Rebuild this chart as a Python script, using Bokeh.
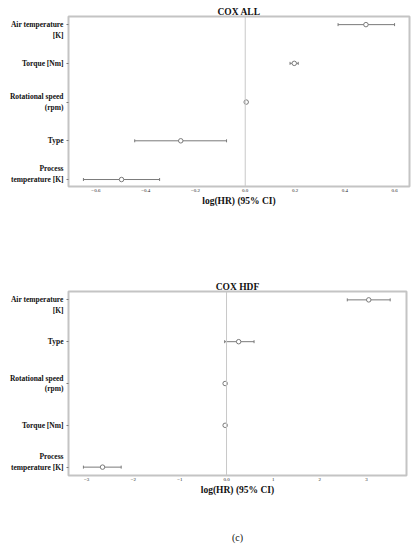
from bokeh.plotting import figure
from bokeh.models import ColumnDataSource, Whisker, TeeHead, Span, FixedTicker, Title, Range1d
from bokeh.layouts import column
from bokeh.embed import file_html
from bokeh.resources import INLINE

# ---- data: COX ALL (top to bottom) ----
all_vars = ["Air temperature [K]", "Torque [Nm]", "Rotational speed (rpm)", "Type", "Process temperature [K]"]
all_coef = [0.485, 0.197, 0.004, -0.259, -0.497]
all_lo = [0.373, 0.180, 0.000, -0.444, -0.650]
all_hi = [0.600, 0.213, 0.008, -0.075, -0.344]
all_ticks = [-0.6, -0.4, -0.2, 0.0, 0.2, 0.4, 0.6]
all_tick_labels = ["\u22120.6", "\u22120.4", "\u22120.2", "0.0", "0.2", "0.4", "0.6"]

# ---- data: COX HDF (top to bottom) ----
hdf_vars = ["Air temperature [K]", "Type", "Rotational speed (rpm)", "Torque [Nm]", "Process temperature [K]"]
hdf_coef = [3.05, 0.26, -0.03, -0.03, -2.66]
hdf_lo = [2.59, -0.04, -0.04, -0.04, -3.07]
hdf_hi = [3.51, 0.59, -0.02, -0.02, -2.26]
hdf_ticks = [-3, -2, -1, 0, 1, 2, 3]
hdf_tick_labels = ["\u22123", "\u22122", "\u22121", "0.0", "1", "2", "3"]

NB = "\u00a0"
label_text = {
    "Air temperature [K]": NB + "\nAir temperature\n" + NB * 10 + "[K]",
    "Torque [Nm]": "Torque [Nm]",
    "Rotational speed (rpm)": "Rotational speed\n" + NB * 9 + "(rpm)",
    "Type": "Type",
    "Process temperature [K]": NB * 8 + "Process\ntemperature [K]\n" + NB,
}

SERIF = "Liberation Serif"
GRAY = "#7a7a7a"


def panel(title, names, coef, lo, hi, ticks, tick_labels, xr, yr,
          fw, fh, right_border, top_border, bottom_border, caption=None):
    n = len(names)
    ys = [n - 1 - i for i in range(n)]
    src = ColumnDataSource(dict(y=ys, coef=coef, lo=lo, hi=hi))
    p = figure(frame_width=fw, frame_height=fh,
               x_range=Range1d(*xr), y_range=Range1d(*yr),
               output_backend="svg", toolbar_location=None,
               min_border_left=68, min_border_right=right_border,
               min_border_top=top_border, min_border_bottom=bottom_border)
    t = Title(text=title, align="center", text_font=SERIF, text_font_size="9.5px",
              text_font_style="bold", text_color="#111111", standoff=0, offset=0)
    p.add_layout(t, "above")
    p.background_fill_color = "white"
    p.border_fill_color = "white"
    p.outline_line_color = "#c4c4c4"
    p.outline_line_width = 2
    p.xgrid.visible = False
    p.ygrid.visible = False

    p.add_layout(Span(location=0, dimension="height", line_color="#c8c8c8", line_width=1))

    w = Whisker(base="y", lower="lo", upper="hi", dimension="width", source=src,
                line_color=GRAY, line_width=1,
                lower_head=TeeHead(size=3, line_color=GRAY, line_width=1),
                upper_head=TeeHead(size=3, line_color=GRAY, line_width=1))
    p.add_layout(w)
    p.scatter(x="coef", y="y", source=src, marker="circle", size=4.5,
              fill_color="white", line_color=GRAY, line_width=1)

    p.xaxis.ticker = FixedTicker(ticks=ticks)
    p.xaxis.major_label_overrides = {t_: l for t_, l in zip(ticks, tick_labels)}
    p.xaxis.major_label_text_font = SERIF
    p.xaxis.major_label_text_font_size = "5px"
    p.xaxis.major_label_text_color = "#222222"
    p.xaxis.major_label_standoff = 2
    p.xaxis.major_tick_line_color = None
    p.xaxis.major_tick_out = 0
    p.xaxis.major_tick_in = 0
    p.xaxis.minor_tick_line_color = None
    p.xaxis.axis_line_color = None
    p.xaxis.axis_label = "log(HR) (95% CI)"
    p.xaxis.axis_label_text_font = SERIF
    p.xaxis.axis_label_text_font_size = "9.5px"
    p.xaxis.axis_label_text_font_style = "bold"
    p.xaxis.axis_label_text_color = "#111111"
    p.xaxis.axis_label_standoff = 1

    p.yaxis.ticker = FixedTicker(ticks=ys)
    p.yaxis.major_label_overrides = {y: label_text[nm] for y, nm in zip(ys, names)}
    p.yaxis.major_label_text_font = SERIF
    p.yaxis.major_label_text_font_size = "7.5px"
    p.yaxis.major_label_text_font_style = "bold"
    p.yaxis.major_label_text_color = "#111111"
    p.yaxis.major_label_standoff = 3
    p.yaxis.major_tick_out = 2
    p.yaxis.major_tick_in = 0
    p.yaxis.major_tick_line_color = GRAY
    p.yaxis.minor_tick_line_color = None
    p.yaxis.axis_line_color = None

    if caption is not None:
        c = Title(text=caption, align="center", text_font=SERIF, text_font_size="10px",
                  text_font_style="normal", text_color="#111111", standoff=65)
        p.add_layout(c, "below")
    return p


p1 = panel("COX ALL", all_vars, all_coef, all_lo, all_hi, all_ticks, all_tick_labels,
           (-0.71, 0.66), (-0.18, 4.21), 341, 170, 7, 16, 84)
p2 = panel("COX HDF", hdf_vars, hdf_coef, hdf_lo, hdf_hi, hdf_ticks, hdf_tick_labels,
           (-3.39, 3.86), (-0.2, 4.2), 338, 184, 10, 21, 75, caption="(c)")

layout = column(p1, p2, spacing=0)
open("out.html", "w").write(file_html(layout, INLINE))
